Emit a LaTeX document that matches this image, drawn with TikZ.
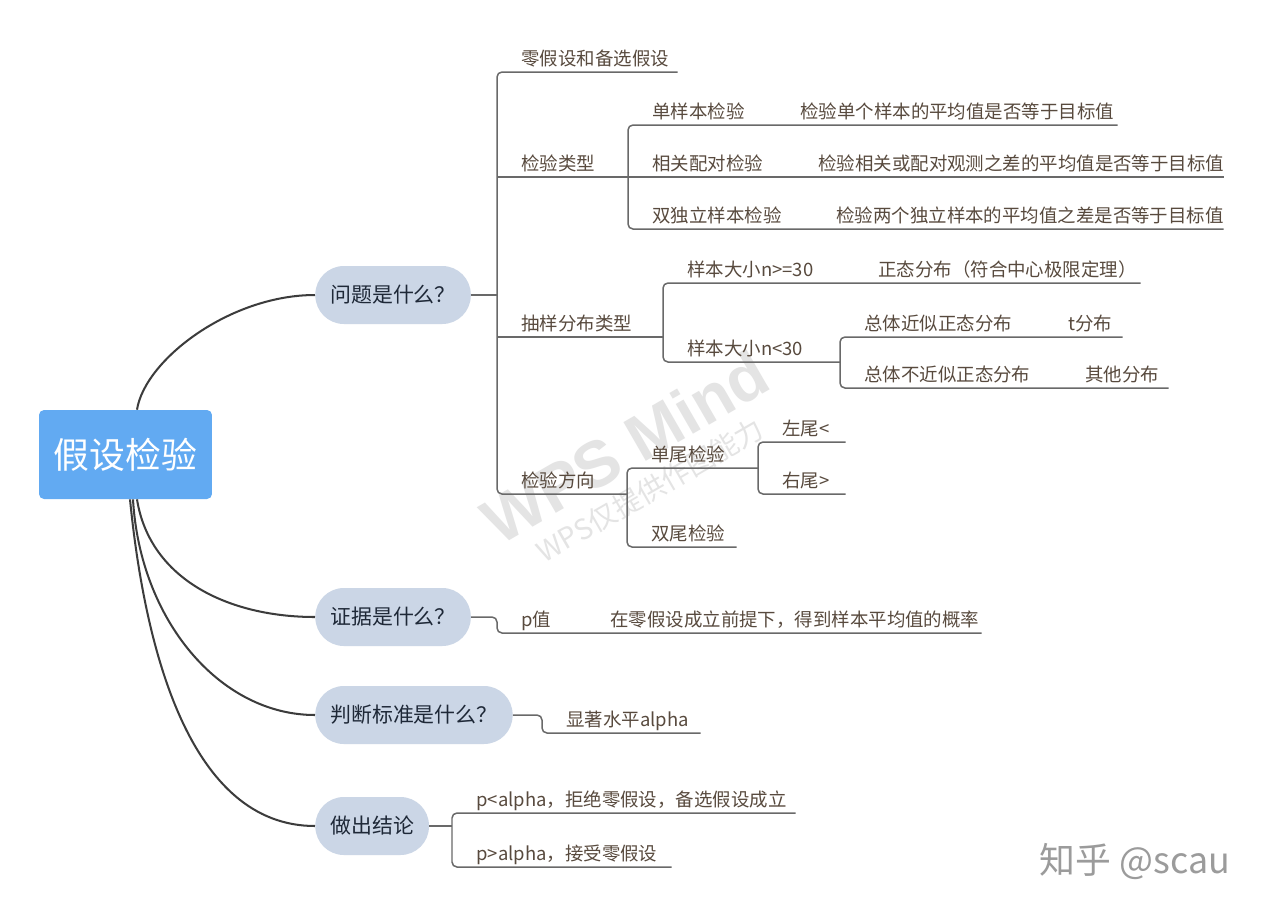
\documentclass[tikz,border=0pt]{standalone}
\usepackage{fontspec}
\usepackage{tikz}
\setmainfont{Noto Sans CJK SC}
\newfontfamily\wmfont{Liberation Sans}
\definecolor{rootblue}{RGB}{98,170,242}
\definecolor{pillfill}{RGB}{203,214,230}
\definecolor{pilltext}{RGB}{30,40,55}
\definecolor{leaftext}{RGB}{88,74,62}
\definecolor{stemgray}{RGB}{105,105,105}
\definecolor{curvegray}{RGB}{60,60,60}
\definecolor{markgray}{RGB}{155,155,155}
\definecolor{wmgray}{RGB}{228,228,228}
\newcommand\leaffont{\fontsize{10.5}{12}\selectfont}
\newcommand\topicfont{\fontsize{11.9}{14}\selectfont}
\newcommand\rootfont{\fontsize{20.4}{24}\selectfont}

\begin{document}
\begin{tikzpicture}[x=0.02cm,y=-0.02cm,
      root node/.style={fill=rootblue,rounded corners=0.1cm,minimum width=3.46cm,minimum height=1.78cm,text=white,font=\rootfont},
      topic node/.style={anchor=west,fill=pillfill,rounded corners=0.57cm,minimum height=1.16cm,inner xsep=0.3cm,text=pilltext,font=\topicfont},
      leaf/.style={anchor=south west,inner xsep=0pt,inner ysep=0.07cm,text depth=0.05cm,text width=#1,align=left,
        text=leaftext,font=\leaffont,execute at begin node={\noindent\hspace*{0.48cm}}},
      stem/.style={draw=stemgray,line width=0.85pt,rounded corners=0.1cm},
      curve/.style={draw=curvegray,line width=1.15pt}]
      \useasboundingbox[fill=white] (0,0) rectangle (1269,914);

      % watermark
      \node[rotate=30,text=wmgray,font=\wmfont\bfseries\fontsize{37}{40}\selectfont] (wm-title) at (625,447) {WPS Mind};
      \node[rotate=30,text=wmgray,font=\fontsize{16}{18}\selectfont] (wm-note) at (650,490) {WPS仅提供作图能力};

      \node[root node] (root) at (125.5,454.5) {假设检验};
      \node[topic node] (q) at (315,295) {问题是什么？};
      \node[topic node] (ev) at (315,617) {证据是什么？};
      \node[topic node] (crit) at (315,715) {判断标准是什么？};
      \node[topic node] (concl) at (315,826) {做出结论};

      % problem
      \node[leaf=3.6cm] (h0) at (497,72) {零假设和备选假设};
      \node[leaf=2.62cm] (types) at (497,177) {检验类型};
      \node[leaf=3.32cm] (samp) at (497,337) {抽样分布类型};
      \node[leaf=2.6cm] (dir) at (497,494) {检验方向};

      \node[leaf=2.96cm] (one) at (628,125) {单样本检验};
      \node[leaf=6.82cm] (one-d) at (776,125) {检验单个样本的平均值是否等于目标值};
      \node[leaf=3.32cm] (paired) at (628,177) {相关配对检验};
      \node[leaf=8.58cm] (paired-d) at (794,177) {检验相关或配对观测之差的平均值是否等于目标值};
      \node[leaf=3.68cm] (two) at (628,229) {双独立样本检验};
      \node[leaf=8.22cm] (two-d) at (812,229) {检验两个独立样本的平均值之差是否等于目标值};

      \node[leaf=3.82cm] (big) at (663,283) {样本大小n>=30};
      \node[leaf=5.72cm] (big-d) at (854,283) {正态分布（符合中心极限定理）};
      \node[leaf=3.54cm] (small) at (663,362) {样本大小n<30};
      \node[leaf=4.08cm] (approx) at (840,337) {总体近似正态分布};
      \node[leaf=1.56cm] (approx-d) at (1044,337) {t分布};
      \node[leaf=4.42cm] (nonapprox) at (840,388) {总体不近似正态分布};
      \node[leaf=2.14cm] (other) at (1061,388) {其他分布};

      \node[leaf=2.62cm] (onetail) at (627,468) {单尾检验};
      \node[leaf=2.18cm] (twotail) at (627,547) {双尾检验};
      \node[leaf=1.74cm] (lefttail) at (758,442) {左尾<};
      \node[leaf=1.74cm] (righttail) at (758,494) {右尾>};

      % evidence, criterion, conclusion
      \node[leaf=1.78cm] (pval) at (497,633) {p值};
      \node[leaf=7.9cm] (pval-d) at (586,633) {在零假设成立前提下，得到样本平均值的概率};
      \node[leaf=3.16cm] (alpha) at (542,733) {显著水平alpha};
      \node[leaf=6.86cm] (rej) at (452,813) {p<alpha，拒绝零假设，备选假设成立};
      \node[leaf=4.38cm] (acc) at (452,867) {p>alpha，接受零假设};

      \node[text=markgray,font=\fontsize{20.4}{24}\selectfont] (credit) at (1135,862) {知乎 @scau};

      \draw[curve] ([xshift=0.23cm]root.north) .. controls +(8,-50) and +(-85,0) .. (q.west);
      \draw[curve] ([xshift=0.23cm]root.south) .. controls +(13,81) and +(-85,0) .. (ev.west);
      \draw[curve] ([xshift=0.15cm]root.south) .. controls +(7,121) and +(-95,0) .. (crit.west);
      \draw[curve] ([xshift=0.09cm]root.south) .. controls +(15,151) and +(-125,0) .. (concl.west);

      \draw[stem] (q.east) -- (q.east -| h0.south west);
      \draw[stem] (h0.south east) -- (h0.south west) -- (dir.south west) -- (dir.south east);
      \draw[stem] (types.south west) -- (paired-d.south east);
      \draw[stem] (samp.south west) -- (samp.south east);
      \draw[stem] (one-d.south east) -- (one.south west) -- (two.south west) -- (two-d.south east);
      \draw[stem] (big-d.south east) -- (big.south west) -- (small.south west) -- (small.south east);
      \draw[stem] (approx-d.south east) -- (approx.south west) -- (nonapprox.south west) -- (other.south east);
      \draw[stem] (onetail.south east) -- (onetail.south west) -- (twotail.south west) -- (twotail.south east);
      \draw[stem] (lefttail.south east) -- (lefttail.south west) -- (righttail.south west) -- (righttail.south east);

      \draw[stem] (ev.east) -- (ev.east -| pval.south west) -- (pval.south west) -- (pval-d.south east);
      \draw[stem] (crit.east) -- (crit.east -| alpha.south west) -- (alpha.south west) -- (alpha.south east);
      \draw[stem] (concl.east) -- (concl.east -| rej.south west);
      \draw[stem] (rej.south east) -- (rej.south west) -- (acc.south west) -- (acc.south east);
\end{tikzpicture}
\end{document}
